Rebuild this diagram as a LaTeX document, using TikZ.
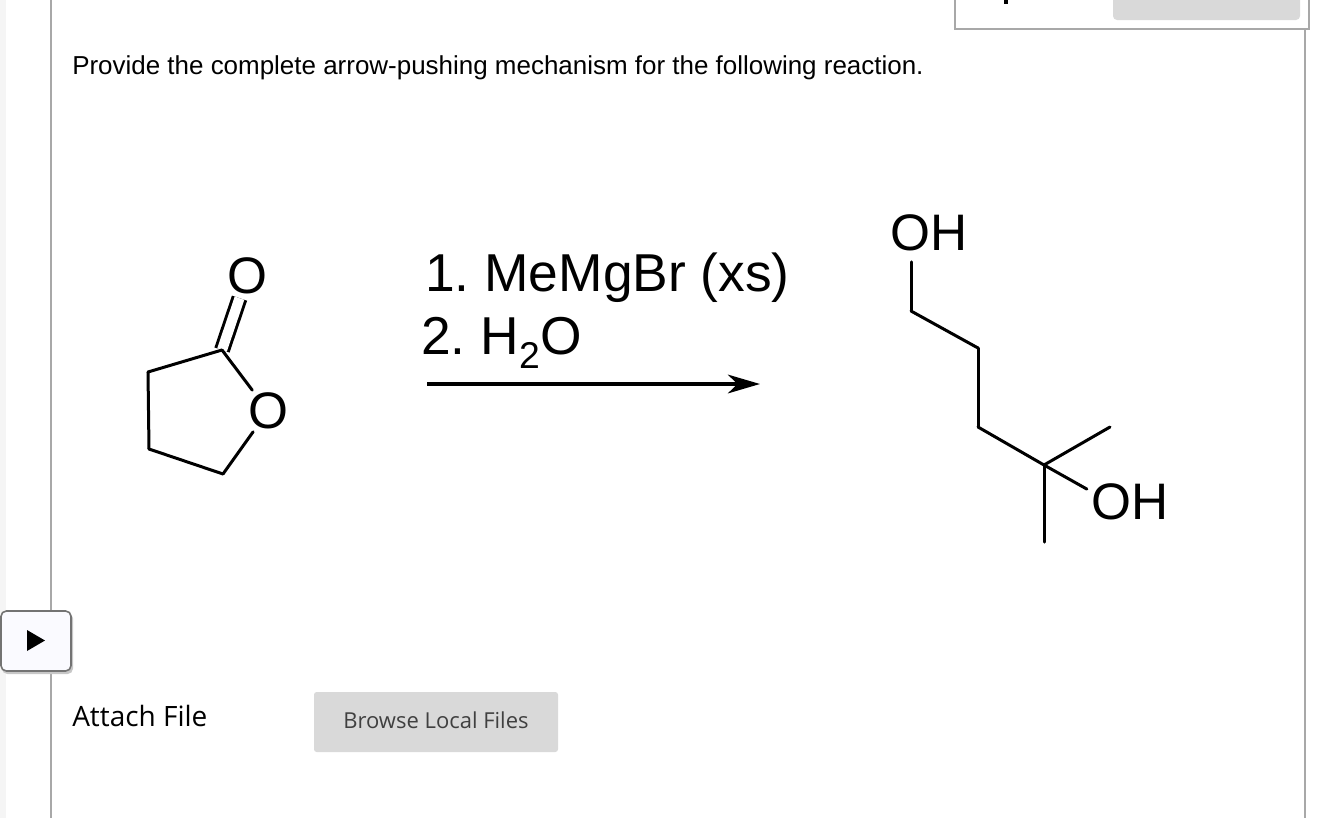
\documentclass[tikz,border=0pt]{standalone}
\usepackage{fontspec}
\setmainfont{Liberation Sans}
\newfontfamily\uifont{Open Sans}
\usetikzlibrary{arrows.meta}
\frenchspacing
\definecolor{framegray}{HTML}{A8A8A8}
\definecolor{btngray}{HTML}{D9D9D9}
\tikzset{
	bond/.style={line width=2.25pt, line cap=round, line join=round},
	atom/.style={inner sep=0pt, outer sep=0pt, font=\fontsize{38.5}{40}\selectfont},
	reagent/.style={inner sep=0pt, anchor=base west, font=\fontsize{40}{42}\selectfont},
	frameline/.style={draw=framegray, line width=1.6pt}
}
\begin{document}
\begin{tikzpicture}[x=0.75pt, y=-0.75pt]
		\useasboundingbox (0,0) rectangle (1324,818);
		% page frame
		\fill[black!4] (0,0) rectangle (6,818);
		\draw[frameline] (51,0) -- (51,818);
		\draw[frameline] (1305,29) -- (1305,818);
		\draw[frameline] (955,-5) -- (955,29) -- (1309,29) -- (1309,-5);
		\fill[btngray, rounded corners=3pt] (1113,-10) rectangle (1300,20);
		\fill[black] (1004,0) rectangle (1008,4);
		
		\node[inner sep=0pt, anchor=base west, font=\fontsize{19.47}{24}\selectfont] (Q) at (72,74) {Provide the complete arrow-pushing mechanism for the following reaction.};
		
		% lactone
		\coordinate (C1) at (222,350);
		\coordinate (C2) at (148,372);
		\coordinate (C3) at (149,449);
		\coordinate (C4) at (223,474);
		\node[atom, inner sep=3pt] (O1) at (247,276) {O};
		\node[atom, inner sep=2pt] (O2) at (268,411) {O};
		
		\path [draw, double, double distance=7.6pt, line width=2.2pt] (C1) -- (O1);
		\path [bond] (C1) edge (C2);
		\path [bond] (C2) edge (C3);
		\path [bond] (C3) edge (C4);
		\path [bond] (C4) edge (O2);
		\path [bond] (C1) edge (O2);
		
		% reagents and arrow
		\node[reagent] (R1) at (425,291) {1. MeMgBr (xs)};
		\node[reagent] (R2) at (421,354) {2. H\textsubscript{2}O};
		\coordinate (A1) at (427,384);
		\coordinate (A2) at (760,384);
		\draw[line width=2.5pt, -{Stealth[length=24pt, width=14pt, inset=7pt]}] (A1) -- (A2);
		
		% diol
		\node[atom] (OH1) at (929,233) {OH};
		\node[atom] (OH2) at (1130,502) {OH};
		\coordinate (D1) at (911,311);
		\coordinate (D2) at (978,348);
		\coordinate (D3) at (978,427);
		\coordinate (D4) at (1044,465);
		\coordinate (D5) at (1110,427);
		\coordinate (D6) at (1044,542);
		
		\path [bond, shorten >=8pt] (D1) edge (OH1.south -| D1);
		\path [bond] (D1) edge (D2);
		\path [bond] (D2) edge (D3);
		\path [bond] (D3) edge (D4);
		\path [bond] (D4) edge (D5);
		\path [bond] (D4) edge (D6);
		\path [bond, shorten >=4pt] (D4) edge (OH2.165);
		
		% play button
		\fill[black!22, rounded corners=4pt] (2,613) rectangle (73,674);
		\draw[draw=black!55, fill=blue!2, line width=1.2pt, rounded corners=4pt] (1,611) rectangle (71,671);
		\fill[black] (27,630) -- (45,640.5) -- (27,651) -- cycle;
		
		\node[inner sep=0pt, anchor=base west, font=\uifont\fontsize{21}{24}\selectfont] (F) at (72,726) {Attach File};
		\node[fill=btngray, rounded corners=2pt, minimum width=183pt, minimum height=45pt, inner sep=0pt, text height=12pt, text depth=3pt, text=black!75, font=\uifont\fontsize{16.5}{20}\selectfont] (B) at (436,722) {Browse Local Files};
\end{tikzpicture}
\end{document}
